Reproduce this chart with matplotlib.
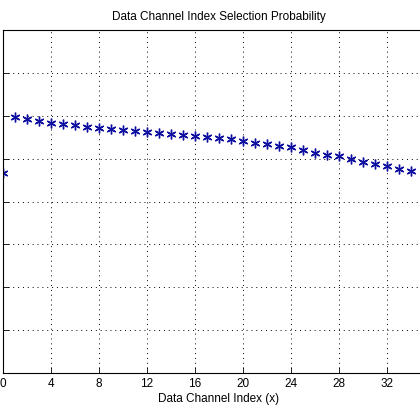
import numpy as np
import matplotlib.pyplot as plt

channel = np.arange(0, 35)
prob = [4.67, 5.98, 5.92, 5.87, 5.84, 5.81, 5.78, 5.74, 5.71, 5.69, 5.67, 5.64,
        5.61, 5.60, 5.57, 5.55, 5.53, 5.51, 5.48, 5.46, 5.41, 5.37, 5.34, 5.30,
        5.26, 5.21, 5.14, 5.09, 5.05, 4.99, 4.93, 4.88, 4.83, 4.76, 4.71]
xticks = [0, 4, 8, 12, 16, 20, 24, 28, 32, 36]

fig = plt.figure(figsize=(4.2, 4.2), dpi=100)
ax = fig.add_axes([3 / 420, 47 / 420, 432 / 420, 343 / 420])
ax.plot(channel, prob, linestyle='none', marker=(6, 2, 0), color='#1010a0',
        markersize=7, markeredgewidth=1.0)
ax.set_xlim(0, 36)
ax.set_ylim(0, 8)
ax.set_xticks(xticks)
ax.set_xticklabels([str(t) for t in xticks[:-1]] + [''], fontfamily='Liberation Sans', fontsize=8.5)
ax.set_yticks(range(0, 9))
ax.set_yticklabels([])
ax.tick_params(direction='in', length=4, width=0.6)
ax.grid(True, linestyle=(0, (1, 4)), color='black', linewidth=0.7)
for s in ax.spines.values():
    s.set_linewidth(0.8)
ax.set_title('Data Channel Index Selection Probability', fontfamily='Liberation Sans', fontsize=8.5, pad=7)
ax.set_xlabel('Data Channel Index (x)', fontfamily='Liberation Sans', fontsize=8.5, labelpad=2)
fig.savefig('out.png', dpi=100)
